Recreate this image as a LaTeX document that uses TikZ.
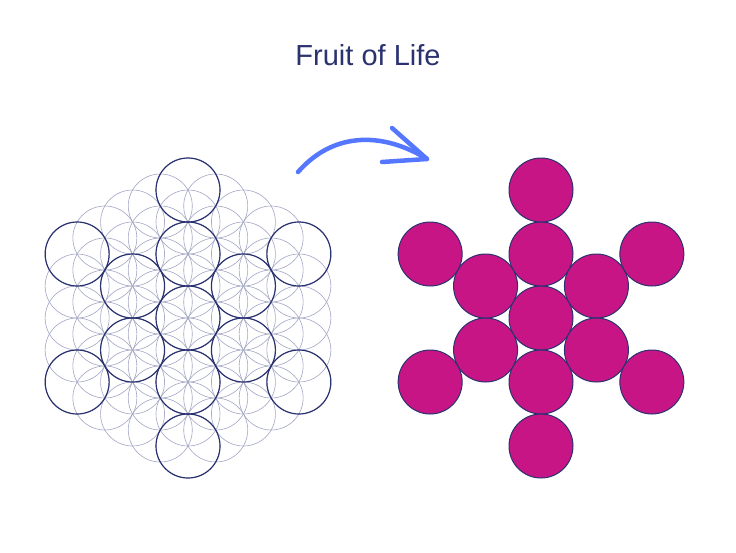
\documentclass[tikz,border=0pt]{standalone}
\usepackage{fontspec}
\setmainfont{Liberation Sans}
\begin{document}
\begin{tikzpicture}[x=1pt,y=-1pt,
  light/.style={draw=lightc,line width=0.6pt},
  dark/.style={draw=darkc,line width=1.2pt},
  fruit/.style={draw=darkc,fill=fruitc,line width=1pt},
  arr/.style={draw=arrc,line width=4.5pt,line cap=round,line join=round}]
\definecolor{lightc}{HTML}{A3A6C4}
\definecolor{darkc}{HTML}{2B3270}
\definecolor{fruitc}{HTML}{C71585}
\definecolor{arrc}{HTML}{5577FF}
\useasboundingbox (0,0) rectangle (736,552);
\fill[white] (0,0) rectangle (736,552);
\node[text=darkc,font=\fontsize{29}{34}\selectfont] (title) at (368,55) {Fruit of Life};
\def\r{32}
% flower of life (light)
\foreach \i in {-4,...,4}{
  \foreach \j in {-4,...,4}{
    \pgfmathtruncatemacro\d{max(abs(\i),abs(\j),abs(\i+\j))}
    \ifnum\d<5
      \draw[light] ({188+\j*27.713},{318-\i*32-\j*16}) circle (\r);
    \fi
  }
}
% fruit of life positions
\foreach \k/\dx/\dy in {c/0/0,
  a1/0/-64,a2/55.43/-32,a3/55.43/32,a4/0/64,a5/-55.43/32,a6/-55.43/-32,
  b1/0/-128,b2/110.85/-64,b3/110.85/64,b4/0/128,b5/-110.85/64,b6/-110.85/-64}{
  \draw[dark] (188+\dx,318+\dy) circle (\r);
  \node[fruit,circle,minimum size=64pt,inner sep=0pt] (f\k) at (541+\dx,318+\dy) {};
}
% arrow
\coordinate (s) at (298,172);
\coordinate (e) at (427,159);
\coordinate (h1) at (392,128);
\coordinate (h2) at (382,162);
\draw[arr] (s) .. controls (335,130) and (385,133) .. (e);
\draw[arr] (h1) -- (e) -- (h2);
\end{tikzpicture}
\end{document}
